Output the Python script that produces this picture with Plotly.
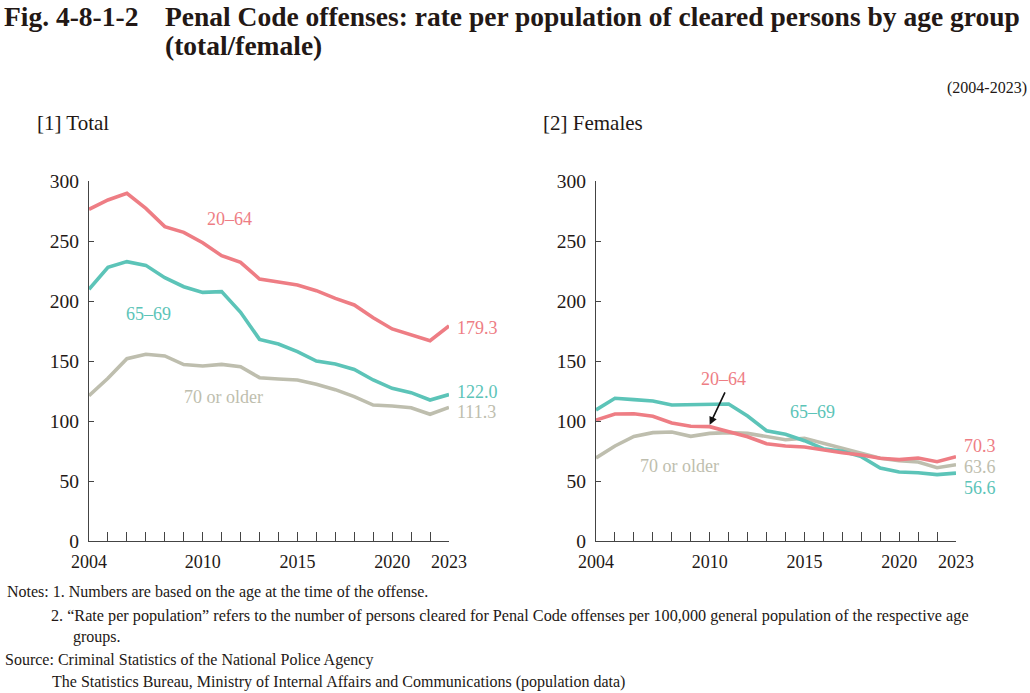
import plotly.graph_objects as go

years = list(range(2004, 2024))

total_20_64 = [276.4, 284.2, 289.7, 277.2, 262.0, 257.2, 248.6, 237.8, 232.2, 218.3,
               215.8, 213.3, 208.6, 202.2, 196.7, 186.1, 176.7, 171.7, 166.9, 179.3]
total_65_69 = [209.7, 228.0, 232.8, 229.7, 219.4, 211.9, 207.2, 207.8, 190.6, 168.0,
               164.2, 157.8, 150.0, 147.5, 143.0, 134.2, 127.2, 123.6, 117.5, 122.0]
total_70 = [121.1, 135.6, 151.9, 155.6, 154.2, 147.0, 145.8, 147.2, 145.3, 136.1,
            135.0, 134.2, 130.6, 126.1, 120.3, 113.3, 112.5, 111.1, 105.6, 111.3]

fem_20_64 = [100.8, 105.8, 106.1, 103.9, 98.3, 95.6, 95.3, 91.1, 86.9, 81.1,
             79.2, 78.3, 75.6, 73.6, 71.7, 68.9, 67.8, 69.2, 66.1, 70.3]
fem_65_69 = [109.2, 118.9, 117.8, 116.7, 113.3, 113.6, 113.9, 114.2, 104.2, 91.9,
             88.9, 83.6, 76.9, 74.7, 70.3, 60.8, 57.5, 56.9, 55.3, 56.6]
fem_70 = [69.2, 79.2, 87.2, 90.3, 90.8, 87.2, 89.7, 90.3, 89.7, 86.7,
          84.4, 85.6, 81.4, 76.7, 72.5, 68.9, 66.9, 65.8, 61.1, 63.6]

x_tick_labels = {2004: "2004", 2010: "2010", 2015: "2015", 2020: "2020", 2023: "2023"}
y_ticks = [0, 50, 100, 150, 200, 250, 300]

RED = "#EE7D84"
TEAL = "#5CC4B8"
GRAY = "#BEBEAE"
FONT = "Liberation Serif"
TXT = "#231815"

W, H = 1030, 693

fig = go.Figure()

def add_lines(xa, ya, series):
    for vals, col in series:
        fig.add_trace(go.Scatter(x=years, y=vals, mode="lines", xaxis=xa, yaxis=ya,
                                 line=dict(color=col, width=3.6), showlegend=False,
                                 hoverinfo="skip"))

# draw order: gray, teal, red (red on top)
add_lines("x", "y", [(total_70, GRAY), (total_65_69, TEAL), (total_20_64, RED)])
add_lines("x2", "y2", [(fem_70, GRAY), (fem_65_69, TEAL), (fem_20_64, RED)])

ydom = [(H - 541) / H, (H - 181) / H]

def xaxis(dom, anchor):
    return dict(domain=dom, range=[2004, 2023], tickvals=years, anchor=anchor,
                ticktext=[x_tick_labels.get(y, "") for y in years],
                ticks="inside", ticklen=9, tickwidth=1, tickcolor="#444",
                showline=True, linecolor="#444", linewidth=1, showgrid=False,
                zeroline=False, ticklabelstandoff=4, automargin=False,
                tickfont=dict(family=FONT, size=18, color=TXT), fixedrange=True)

def yaxis(anchor):
    return dict(domain=ydom, range=[0, 300], tickvals=y_ticks, anchor=anchor,
                ticks="inside", ticklen=5, tickwidth=1, tickcolor="#444",
                showline=True, linecolor="#444", linewidth=1, showgrid=False,
                zeroline=False, ticklabelstandoff=5, automargin=False,
                tickfont=dict(family=FONT, size=19.5, color=TXT), fixedrange=True)

fig.update_layout(
    width=W, height=H,
    margin=dict(l=0, r=0, t=0, b=0, pad=0, autoexpand=False),
    paper_bgcolor="white", plot_bgcolor="white",
    xaxis=xaxis([89 / W, 449 / W], "y"),
    yaxis=yaxis("x"),
    xaxis2=xaxis([596 / W, 956 / W], "y2"),
    yaxis2=yaxis("x2"),
)

ann = []

def lab(xref, yref, x, y, text, color, size=18, xanchor="center", yanchor="middle", xshift=0, yshift=0):
    ann.append(dict(xref=xref, yref=yref, x=x, y=y, text=text, showarrow=False,
                    font=dict(family=FONT, size=size, color=color),
                    xanchor=xanchor, yanchor=yanchor, xshift=xshift, yshift=yshift))

# series labels, left
lab("x", "y", 2011.44, 268, "20–64", RED)
lab("x", "y", 2007.13, 189, "65–69", TEAL)
lab("x", "y", 2011.09, 120.3, "70 or older", GRAY)
lab("x", "y", 2023, total_20_64[-1], f"{total_20_64[-1]:.1f}", RED, xanchor="left", xshift=6, yshift=-2)
lab("x", "y", 2023, total_65_69[-1], f"{total_65_69[-1]:.1f}", TEAL, xanchor="left", xshift=6, yshift=3)
lab("x", "y", 2023, total_70[-1], f"{total_70[-1]:.1f}", GRAY, xanchor="left", xshift=6, yshift=-5)

# series labels, right
lab("x2", "y2", 2010.75, 134.8, "20–64", RED)
lab("x2", "y2", 2015.44, 107.3, "65–69", TEAL)
lab("x2", "y2", 2008.4, 62.8, "70 or older", GRAY)
lab("x2", "y2", 2023, fem_20_64[-1], f"{fem_20_64[-1]:.1f}", RED, xanchor="left", xshift=6, yshift=11)
lab("x2", "y2", 2023, fem_70[-1], f"{fem_70[-1]:.1f}", GRAY, xanchor="left", xshift=6, yshift=-2)
lab("x2", "y2", 2023, fem_65_69[-1], f"{fem_65_69[-1]:.1f}", TEAL, xanchor="left", xshift=6, yshift=-15)

# arrow to 20-64 (females)
ann.append(dict(xref="x2", yref="y2", x=2010, y=fem_20_64[6] + 1.5, ax=16, ay=-34,
                showarrow=True, arrowhead=2, arrowsize=1, arrowwidth=1.6,
                arrowcolor="#111", text=""))

def ptxt(px, py, text, size, bold=False, xanchor="left"):
    t = f"<b>{text}</b>" if bold else text
    ann.append(dict(xref="paper", yref="paper", x=px / W, y=1 - py / H, text=t,
                    showarrow=False, xanchor=xanchor, yanchor="middle",
                    font=dict(family=FONT, size=size, color=TXT)))

ptxt(2, 17, "Fig. 4-8-1-2", 27.5, bold=True)
ptxt(163, 17, "Penal Code offenses: rate per population of cleared persons by age group", 27.5, bold=True)
ptxt(163, 45, "(total/female)", 27.5, bold=True)
ptxt(1029, 88, "(2004-2023)", 16, xanchor="right")
ptxt(35, 123, "[1] Total", 21)
ptxt(541, 123, "[2] Females", 21)

ptxt(5, 592, "Notes: 1. Numbers are based on the age at the time of the offense.", 16)
ptxt(49, 616, "2. “Rate per population” refers to the number of persons cleared for Penal Code offenses per 100,000 general population of the respective age", 16.2)
ptxt(71, 637, "groups.", 16)
ptxt(3, 660, "Source: Criminal Statistics of the National Police Agency", 16)
ptxt(50, 682, "The Statistics Bureau, Ministry of Internal Affairs and Communications (population data)", 16)

fig.update_layout(annotations=ann)

fig.write_html("out.html")
